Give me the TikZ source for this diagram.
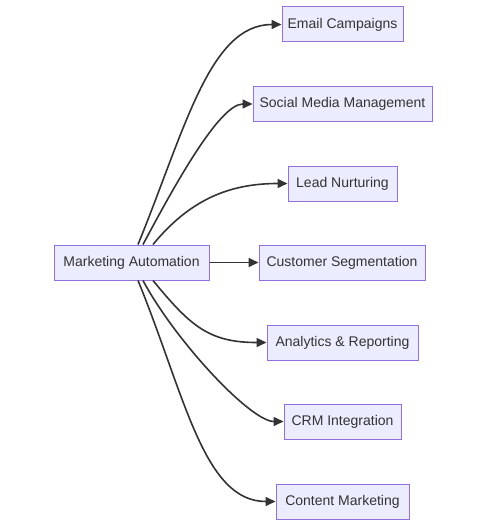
\documentclass[tikz,border=0pt]{standalone}
\usepackage{fontspec}
\setmainfont{Liberation Sans}
\usetikzlibrary{arrows.meta}
\definecolor{boxfill}{HTML}{ECECFF}
\definecolor{boxline}{HTML}{9370DB}
\definecolor{edgecol}{HTML}{333333}
\definecolor{txtcol}{HTML}{333333}
\begin{document}
\begin{tikzpicture}[x=1pt,y=-1pt,
  box/.style={draw=boxline, fill=boxfill, line width=1pt, minimum height=35pt,
    inner sep=0pt, text=txtcol, font=\fontsize{14}{16}\selectfont},
  edge/.style={draw=edgecol, line width=1.6pt, -{Triangle[length=10pt,width=9pt]}}]
\useasboundingbox (0,0) rectangle (500,527);
\node[box, minimum width=155pt] (ma) at (131.5,262.5) {Marketing Automation};
\node[box, minimum width=121pt] (email) at (342.5,24.5) {Email Campaigns};
\node[box, minimum width=179pt] (social) at (342.5,104) {Social Media Management};
\node[box, minimum width=109pt] (lead) at (342.5,183.5) {Lead Nurturing};
\node[box, minimum width=166pt] (cs) at (342,262.5) {Customer Segmentation};
\node[box, minimum width=151pt] (ana) at (342.5,342.5) {Analytics \& Reporting};
\node[box, minimum width=117pt] (crm) at (342.5,421.5) {CRM Integration};
\node[box, minimum width=133pt] (content) at (342.5,501.5) {Content Marketing};
\draw[edge] ([xshift=6.5pt]ma.north) .. controls +(47,-115) and +(-72,0) .. (email.west);
\draw[edge] ([xshift=11.5pt]ma.north) .. controls +(32,-60) and +(-33,0) .. (social.west);
\draw[edge] ([xshift=21.5pt]ma.north) .. controls +(37,-45) and +(-58,0) .. (lead.west);
\draw[edge] (ma.east) -- (cs.west);
\draw[edge] ([xshift=21.5pt]ma.south) .. controls +(37,45) and +(-58,0) .. (ana.west);
\draw[edge] ([xshift=11.5pt]ma.south) .. controls +(32,60) and +(-33,0) .. (crm.west);
\draw[edge] ([xshift=6.5pt]ma.south) .. controls +(47,115) and +(-72,0) .. (content.west);
\end{tikzpicture}
\end{document}
